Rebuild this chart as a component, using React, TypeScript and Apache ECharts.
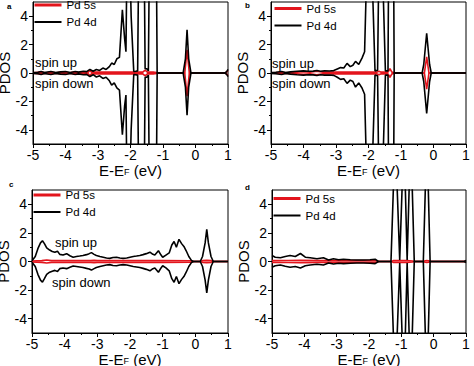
import React, { useEffect, useRef } from "react";
import * as echarts from "echarts";

const FONT = '"Liberation Sans", Arial, Helvetica, sans-serif';
const RED = "#e3141c";
const BLACK = "#000000";

// ---------- Panel a ----------
const aX4d = [-5, -4.85, -4.75, -4.65, -4.45, -4.3, -4.15, -4.0, -3.85, -3.7,
  -3.6, -3.45, -3.35, -3.25, -3.15, -3.05, -2.95, -2.85, -2.75, -2.65,
  -2.58, -2.5, -2.42, -2.34, -2.25, -2.18, -2.14, -2.08, -1.98, -1.9,
  -1.84, -1.78, -1.66, -1.55, -1.5, -1.45, -1.3, -1.18, -0.9, -0.6,
  -0.38, -0.31, -0.26, -0.21, -0.14, 0.3, 0.9, 0.96, 1.0];
const aUp4d = [0.03, 0.05, 0.1, 0.04, 0.1, 0.04, 0.08, 0.1, 0.04, 0.1,
  0.06, 0.12, 0.1, 0.25, 0.12, 0.25, 0.18, 0.35, 0.25, 0.45,
  0.7, 0.6, 1.0, 1.1, 4.45, 2.4, 1.5, 14, 4, 0.1,
  0.12, 0.15, 30, 0.3, 0.3, 0.15, 40, 0, 0, 0,
  0, 1.0, 3.05, 1.0, 0, 0, 0, 0.1, 0.25];
const aDown4d = [-0.03, -0.05, -0.1, -0.04, -0.1, -0.04, -0.08, -0.1, -0.04, -0.1,
  -0.06, -0.12, -0.1, -0.25, -0.12, -0.28, -0.2, -0.38, -0.3, -0.55,
  -0.85, -0.7, -1.05, -1.2, -4.35, -2.3, -1.55, -14, -4, -0.1,
  -0.12, -0.15, -30, -0.3, -0.3, -0.15, -40, 0, 0, 0,
  0, -1.0, -2.97, -1.0, 0, 0, 0, -0.1, -0.25];
const aX5s = [-5, -4.75, -4.6, -4.45, -4.3, -4.15, -4.0, -3.85, -3.7, -3.55,
  -3.4, -3.3, -3.25, -3.2, -3.1, -2.9, -2.7, -2.5, -2.3, -2.1,
  -1.9, -1.62, -1.55, -1.48, -1.3, -1.2, -1.15, -0.33, -0.26, -0.19,
  0.92, 0.97, 1.0];
const aUp5s = [0.02, 0.06, 0.02, 0.06, 0.02, 0.05, 0.02, 0.03, 0.06, 0.02,
  0.05, 0.06, 0.18, 0.06, 0.06, 0.06, 0.06, 0.06, 0.06, 0.06,
  0.06, 0.06, 0.2, 0.06, 0.06, 0.04, 0, 0, 1.63, 0,
  0, 0.1, 0.18];
const aDown5s = [-0.02, -0.06, -0.02, -0.06, -0.02, -0.05, -0.02, -0.03, -0.06, -0.02,
  -0.05, -0.06, -0.18, -0.06, -0.06, -0.06, -0.06, -0.06, -0.06, -0.06,
  -0.06, -0.06, -0.2, -0.06, -0.06, -0.04, 0, 0, -1.63, 0,
  0, -0.1, -0.18];

// ---------- Panel b ----------
const bX4d = [-5, -4.85, -4.67, -4.55, -4.4, -4.2, -4.0, -3.85, -3.7, -3.59,
  -3.48, -3.35, -3.2, -3.07, -2.96, -2.86, -2.76, -2.66, -2.56, -2.48,
  -2.4, -2.3, -2.2, -2.12, -1.98, -1.8, -1.72, -1.65, -1.48, -1.4,
  -1.3, -1.21, -0.6, -0.35, -0.3, -0.21, -0.12, -0.07, 1.0];
const bUp4d = [0.03, 0.05, 0.1, 0.04, 0.08, 0.12, 0.15, 0.12, 0.13, 0.18,
  0.12, 0.15, 0.14, 0.17, 0.28, 0.38, 0.35, 0.68, 0.45, 0.55,
  0.82, 0.6, 1.05, 1.5, 14, 0.15, 0.2, 14, 0.15, 0.15,
  40, 0, 0, 0, 0.6, 2.8, 0.6, 0, 0];
const bDown4d = [-0.03, -0.05, -0.1, -0.04, -0.08, -0.12, -0.15, -0.12, -0.13, -0.18,
  -0.12, -0.15, -0.14, -0.17, -0.3, -0.45, -0.4, -0.73, -0.5, -0.6,
  -0.99, -0.7, -1.06, -1.5, -14, -0.15, -0.2, -14, -0.15, -0.15,
  -40, 0, 0, 0, -0.6, -2.85, -0.6, 0, 0];
const bX5s = [-5, -4.7, -4.4, -4.2, -4.0, -3.8, -3.59, -3.4, -3.0, -2.5,
  -2.0, -1.75, -1.68, -1.61, -1.4, -1.34, -1.28, -1.22, -1.18, -0.28,
  -0.21, -0.14, 1.0];
const bUp5s = [0.02, 0.04, 0.02, 0.06, 0.1, 0.06, 0.12, 0.06, 0.06, 0.06,
  0.06, 0.06, 0.13, 0.06, 0.06, 0.3, 0.06, 0.03, 0, 0,
  1.13, 0, 0];
const bDown5s = [-0.02, -0.04, -0.02, -0.06, -0.1, -0.06, -0.12, -0.06, -0.06, -0.06,
  -0.06, -0.06, -0.13, -0.06, -0.06, -0.3, -0.06, -0.03, 0, 0,
  -1.13, 0, 0];

// ---------- Panel c ----------
const cX4d = [-5, -4.9, -4.82, -4.74, -4.68, -4.62, -4.55, -4.46, -4.38, -4.3,
  -4.22, -4.15, -4.05, -3.94, -3.84, -3.74, -3.64, -3.54, -3.44, -3.33,
  -3.25, -3.18, -3.1, -3.03, -2.92, -2.82, -2.72, -2.62, -2.52, -2.41,
  -2.31, -2.21, -2.1, -2.0, -1.9, -1.8, -1.7, -1.6, -1.5, -1.39,
  -1.3, -1.24, -1.13, -1.05, -1.0, -0.9, -0.8, -0.72, -0.65, -0.58,
  -0.5, -0.42, -0.35, -0.28, -0.2, -0.12, -0.06, 0.15, 0.22, 0.3,
  0.35, 0.4, 0.48, 0.55, 1.0];
const cUp4d = [0.05, 0.35, 0.9, 1.3, 1.45, 1.25, 0.95, 0.8, 0.7, 0.65,
  0.72, 0.5, 0.45, 0.55, 0.4, 0.3, 0.35, 0.38, 0.42, 0.48,
  0.55, 0.62, 0.5, 0.42, 0.35, 0.3, 0.25, 0.22, 0.28, 0.3,
  0.25, 0.22, 0.25, 0.3, 0.35, 0.38, 0.42, 0.48, 0.55, 0.65,
  0.5, 0.45, 0.75, 0.45, 0.3, 0.45, 0.6, 1.15, 1.4, 1.0,
  1.55, 1.25, 1.05, 0.75, 0.35, 0.08, 0, 0, 0.35, 1.3,
  2.25, 1.3, 0.35, 0, 0];
const cDown4d = [-0.05, -0.35, -0.9, -1.3, -1.45, -1.2, -0.9, -0.75, -0.68, -0.62,
  -0.7, -0.5, -0.45, -0.5, -0.4, -0.32, -0.35, -0.38, -0.42, -0.48,
  -0.52, -0.6, -0.5, -0.42, -0.35, -0.3, -0.25, -0.22, -0.28, -0.3,
  -0.25, -0.22, -0.25, -0.3, -0.35, -0.38, -0.42, -0.48, -0.55, -0.65,
  -0.5, -0.45, -0.75, -0.45, -0.3, -0.45, -0.65, -1.2, -1.45, -1.05,
  -1.55, -1.25, -1.05, -0.75, -0.35, -0.08, 0, 0, -0.35, -1.3,
  -2.2, -1.3, -0.35, 0, 0];
const cX5s = [-5, -4.7, -4.55, -4.4, -4.0, -3.2, -3.1, -3.0, -2.0, -1.0,
  -0.15, -0.08, 0.15, 0.22, 0.35, 0.48, 0.55, 1.0];
const cUp5s = [0.03, 0.06, 0.1, 0.06, 0.06, 0.06, 0.08, 0.06, 0.06, 0.06,
  0.05, 0, 0, 0.06, 0.08, 0.06, 0, 0];
const cDown5s = [-0.03, -0.06, -0.1, -0.06, -0.06, -0.06, -0.08, -0.06, -0.06, -0.06,
  -0.05, 0, 0, -0.06, -0.08, -0.06, 0, 0];

// ---------- Panel d ----------
const dX4d = [-5, -4.9, -4.74, -4.59, -4.44, -4.28, -4.12, -3.97, -3.82, -3.61,
  -3.41, -3.25, -3.1, -2.94, -2.79, -2.58, -2.38, -2.17, -1.97, -1.81,
  -1.71, -1.32, -1.19, -1.05, -0.92, -0.82, -0.71, -0.6, -0.32, -0.21,
  -0.11, 0.95, 1.0];
const dUp4d = [0.42, 0.3, 0.26, 0.35, 0.42, 0.35, 0.56, 0.3, 0.26, 0.19,
  0.26, 0.1, 0.19, 0.12, 0.16, 0.12, 0.1, 0.1, 0.12, 0.16,
  0, 0, 9, 0.1, 9, 0.1, 9, 0, 0, 9,
  0, 0, 0.08];
const dDown4d = [-0.4, -0.3, -0.24, -0.33, -0.4, -0.35, -0.45, -0.3, -0.24, -0.19,
  -0.24, -0.1, -0.18, -0.12, -0.15, -0.12, -0.1, -0.1, -0.12, -0.15,
  0, 0, -9, -0.1, -9, -0.1, -9, 0, 0, -9,
  0, 0, -0.08];
const dX5s = [-5, -4.5, -4.12, -3.5, -3.0, -2.5, -2.0, -1.81, -1.74, -1.71,
  -1.32, -1.25, -1.05, -0.82, -0.66, -0.6, -0.32, -0.26, -0.21, -0.16,
  -0.11, 1.0];
const dUp5s = [0.06, 0.07, 0.08, 0.06, 0.06, 0.06, 0.06, 0.06, 0.03, 0,
  0, 0.06, 0.06, 0.06, 0.04, 0, 0, 0.05, 0.06, 0.05,
  0, 0];
const dDown5s = [-0.06, -0.07, -0.08, -0.06, -0.06, -0.06, -0.06, -0.06, -0.03, 0,
  0, -0.06, -0.06, -0.06, -0.04, 0, 0, -0.05, -0.06, -0.05,
  0, 0];

const yLabelValues = [-4, -2, 0, 2, 4];
const yMinorValues = [-3, -1, 1, 3];
const panelLetters = ["a", "b", "c", "d"];
const legendNames = ["Pd 5s", "Pd 4d"];

const panels = [
  { x4d: aX4d, up4d: aUp4d, down4d: aDown4d, x5s: aX5s, up5s: aUp5s, down5s: aDown5s },
  { x4d: bX4d, up4d: bUp4d, down4d: bDown4d, x5s: bX5s, up5s: bUp5s, down5s: bDown5s },
  { x4d: cX4d, up4d: cUp4d, down4d: cDown4d, x5s: cX5s, up5s: cUp5s, down5s: cDown5s },
  { x4d: dX4d, up4d: dUp4d, down4d: dDown4d, x5s: dX5s, up5s: dUp5s, down5s: dDown5s },
];

const zip = (xs: number[], ys: number[]) => xs.map((x, i) => [x, ys[i]]);

const gridBoxes = [
  { left: 33, top: 2, width: 195, height: 142 },
  { left: 271, top: 2, width: 195, height: 142 },
  { left: 32, top: 190, width: 196, height: 143 },
  { left: 272, top: 190, width: 194, height: 143 },
];
const xNameGaps = [17, 17, 12, 12];
const legendBoxes = [
  { left: 33, top: -2.5 },
  { left: 273, top: 1 },
  { left: 32, top: 187.5 },
  { left: 272, top: 191 },
];
const letterPos = [
  { x: 7, y: 2.5 },
  { x: 245, y: 1.5 },
  { x: 9, y: 180.5 },
  { x: 245, y: 183.5 },
];
const spinTexts = [
  { text: "spin up", x: 35, y: 62 },
  { text: "spin down", x: 35, y: 83 },
  { text: "spin up", x: 272, y: 63 },
  { text: "spin down", x: 272, y: 83 },
  { text: "spin up", x: 55, y: 242 },
  { text: "spin down", x: 52, y: 282 },
];

function buildOption() {
  const grid = gridBoxes.map((g) => ({
    ...g,
    show: true,
    borderColor: "#000",
    borderWidth: 1,
    backgroundColor: "transparent",
    containLabel: false,
    outerBoundsMode: "none",
  }));

  const xAxis = gridBoxes.map((_, i) => ({
    type: "value",
    gridIndex: i,
    min: -5,
    max: 1,
    interval: 1,
    axisLine: { show: true, onZero: false, lineStyle: { color: "#000", width: 1 } },
    axisTick: { show: true, inside: false, length: 4, lineStyle: { color: "#000", width: 1 } },
    minorTick: { show: true, splitNumber: 2, length: 2, lineStyle: { color: "#000", width: 1 } },
    splitLine: { show: false },
    minorSplitLine: { show: false },
    axisLabel: { fontSize: 14, color: "#000", fontFamily: FONT, margin: 4 },
    name: "E-E{s|F} (eV)",
    nameLocation: "middle",
    nameGap: xNameGaps[i],
    nameTextStyle: {
      fontSize: 15,
      lineHeight: 15,
      color: "#000",
      fontFamily: FONT,
      rich: { s: { fontSize: 9, lineHeight: 11, color: "#000", fontFamily: FONT, padding: [4, 0, 0, 0] } },
    },
  }));

  const yMain = gridBoxes.map((_, i) => ({
    type: "value",
    gridIndex: i,
    position: "left",
    min: -5,
    max: 5,
    interval: 1,
    axisLine: { show: true, onZero: false, lineStyle: { color: "#000", width: 1 } },
    axisTick: { show: true, inside: false, length: 4, customValues: yLabelValues, lineStyle: { color: "#000", width: 1 } },
    splitLine: { show: false },
    axisLabel: { fontSize: 14, color: "#000", fontFamily: FONT, margin: 5, customValues: yLabelValues },
    name: "PDOS",
    nameLocation: "middle",
    nameGap: 12,
    nameTextStyle: { fontSize: 15, lineHeight: 15, color: "#000", fontFamily: FONT },
  }));
  // second axis of each grid sits on the right side; shift it onto the left edge
  const yMinor = gridBoxes.map((g, i) => ({
    type: "value",
    gridIndex: i,
    position: "right",
    offset: -g.width,
    min: -5,
    max: 5,
    interval: 1,
    axisLine: { show: false, onZero: false },
    axisTick: { show: true, inside: true, length: 2, customValues: yMinorValues, lineStyle: { color: "#000", width: 1 } },
    splitLine: { show: false },
    axisLabel: { show: false },
  }));

  const legend = legendBoxes.map((l) => ({
    ...l,
    orient: "vertical",
    itemWidth: 27,
    itemHeight: 12,
    itemGap: 2,
    padding: 0,
    icon: "inherit",
    selectedMode: false,
    data: [
      { name: legendNames[0], icon: "inherit", lineStyle: { width: 3, color: RED }, itemStyle: { opacity: 0 } },
      { name: legendNames[1], icon: "inherit", lineStyle: { width: 2, color: BLACK }, itemStyle: { opacity: 0 } },
    ],
    textStyle: { fontSize: 11.5, color: "#000", fontFamily: FONT, lineHeight: 15 },
  }));

  const series: any[] = [];
  panels.forEach((p, i) => {
    const common = { type: "line", xAxisIndex: i, yAxisIndex: i, symbol: "none", showSymbol: false, clip: true, silent: true };
    series.push({ ...common, name: legendNames[0], data: zip(p.x5s, p.up5s), lineStyle: { color: RED, width: 1.6 }, itemStyle: { color: RED }, z: 2 });
    series.push({ ...common, name: legendNames[0], data: zip(p.x5s, p.down5s), lineStyle: { color: RED, width: 1.6 }, itemStyle: { color: RED }, z: 2 });
    series.push({ ...common, name: legendNames[1], data: zip(p.x4d, p.up4d), lineStyle: { color: BLACK, width: 1.6 }, itemStyle: { color: BLACK }, z: 3 });
    series.push({ ...common, name: legendNames[1], data: zip(p.x4d, p.down4d), lineStyle: { color: BLACK, width: 1.6 }, itemStyle: { color: BLACK }, z: 3 });
  });

  const graphic: any[] = [];
  panelLetters.forEach((t, i) => {
    graphic.push({
      type: "text",
      x: letterPos[i].x,
      y: letterPos[i].y,
      style: { text: t, font: "bold 8px " + FONT, fill: "#000", verticalAlign: "top" },
    });
  });
  spinTexts.forEach((s) => {
    graphic.push({
      type: "text",
      x: s.x,
      y: s.y,
      z: 10,
      style: { text: s.text, font: "13px " + FONT, fill: "#000", verticalAlign: "middle" },
    });
  });

  return {
    animation: false,
    backgroundColor: "#ffffff",
    grid,
    xAxis,
    yAxis: [...yMain, ...yMinor],
    legend,
    series,
    graphic,
  };
}

export default function App() {
  const ref = useRef<HTMLDivElement | null>(null);
  useEffect(() => {
    if (!ref.current) return;
    const chart = echarts.init(ref.current, undefined, { renderer: "svg" });
    chart.setOption(buildOption() as any);
    return () => chart.dispose();
  }, []);
  return (
    <div
      ref={ref}
      style={{ position: "fixed", left: 0, top: 0, width: 474, height: 366, background: "#fff" }}
    />
  );
}
